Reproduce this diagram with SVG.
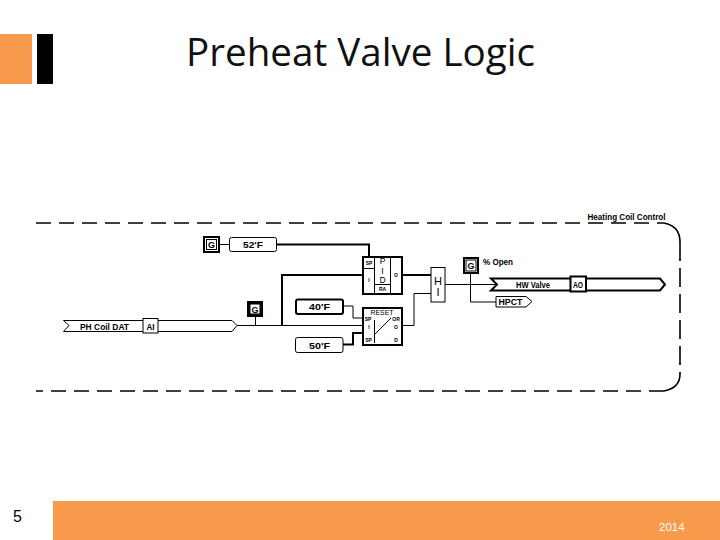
<svg xmlns="http://www.w3.org/2000/svg" width="720" height="540" viewBox="0 0 720 540">
<style>
.ln{fill:none;stroke:#000;stroke-width:1}
.th{fill:none;stroke:#000;stroke-width:2}
.bx{fill:#fff;stroke:#000;stroke-width:1}
.bt{fill:#fff;stroke:#000;stroke-width:2}
.fr{fill:none;stroke:#000;stroke-width:1.6}
.t{font-family:"Liberation Sans",Arial,sans-serif;fill:#000;text-anchor:middle}
.s{font-size:9px;font-weight:bold}
.xs{font-size:5px;font-weight:bold}
.o{fill:#F79A4B}
</style>
<rect width="720" height="540" fill="#fff"/>
<g id="decor">
<rect class="o" x="0" y="34" width="32" height="50"/>
<rect x="37" y="34" width="16" height="50" fill="#000"/>
<rect class="o" x="53" y="501" width="667" height="39"/>
</g>
<text x="186" y="66" font-family="'Open Sans','Noto Sans',sans-serif" font-size="38" textLength="349" lengthAdjust="spacingAndGlyphs" fill="#111">Preheat Valve Logic</text>
<text x="13" y="522" font-family="'Liberation Sans',Arial,sans-serif" font-size="16" fill="#000">5</text>
<text x="659" y="531" font-family="'Liberation Sans',Arial,sans-serif" font-size="11.5" fill="#fff">2014</text>

<g id="connectors">
<path class="fr" stroke-dasharray="15 8" d="M36 223H664"/>
<path class="fr" d="M664 223Q680 226 680 242"/>
<path class="fr" stroke-dasharray="19 7" d="M680 242V374"/>
<path class="fr" d="M680 374Q680 388 664 391"/>
<path class="fr" stroke-dasharray="15 8" d="M664 391H36"/>
<path class="ln" d="M219 244.500H229"/>
<path class="th" d="M277 244.500H369V257" stroke-width="1.500"/>
<path class="ln" d="M237 325.500H363"/>
<path class="ln" d="M255.500 317V325"/>
<path class="th" d="M282 325V275H363"/>
<path class="ln" d="M343 306H353V318H363"/>
<path class="th" d="M343 344.500H353V333H363" stroke-width="1.500"/>
<path class="th" d="M402 275H431"/>
<path class="ln" d="M402 325.500H414V293.500H431"/>
<path class="ln" d="M445 284.500H497"/>
<path class="ln" d="M470.500 273V302H496"/>
</g>

<g id="heating-label"><text class="t s" x="626.500" y="220" textLength="78" lengthAdjust="spacingAndGlyphs">Heating Coil Control</text></g>

<g id="g1"><rect class="bt" x="204" y="237" width="15" height="15"/><rect class="bx" x="206.500" y="239.500" width="10" height="10"/><text class="t s" x="211.500" y="248">G</text></g>
<g id="sp52"><rect class="bx" x="229.500" y="237.500" width="47" height="14" rx="2"/><text class="t s" x="253" y="248" textLength="20" lengthAdjust="spacingAndGlyphs">52'F</text></g>
<g id="g2"><rect x="247" y="301" width="16" height="16" fill="#000"/><rect x="250.500" y="304.500" width="9" height="9" fill="#fff"/><text class="t s" x="255" y="313">G</text></g>
<g id="sp40"><rect class="bt" x="296" y="299.500" width="47" height="14.500" rx="2"/><text class="t s" x="319.500" y="310" textLength="21" lengthAdjust="spacingAndGlyphs">40'F</text></g>
<g id="sp50"><rect class="bx" x="295.500" y="337.500" width="47.500" height="15" rx="2"/><text class="t s" x="319.500" y="349" textLength="21" lengthAdjust="spacingAndGlyphs">50'F</text></g>

<g id="pid">
<rect class="bt" x="363" y="257" width="39" height="37"/>
<path class="ln" d="M374.500 257V294M390.500 257V294M363 268.500H374.500M374.500 284.500H390.500"/>
<text class="t xs" x="369" y="265">SP</text>
<text class="t xs" x="369" y="282">I</text>
<text class="t" font-size="8.500" x="382.500" y="264">P</text>
<text class="t" font-size="8.500" x="382.500" y="274">I</text>
<text class="t" font-size="8.500" x="382.500" y="283">D</text>
<text class="t xs" x="382.500" y="291">RA</text>
<text class="t xs" x="396" y="277">O</text>
</g>

<g id="reset">
<rect class="bt" x="363" y="308" width="39" height="37"/>
<path class="ln" d="M374.500 320V343M375 334L391 318"/>
<text class="t" font-size="7" x="382" y="314.500" textLength="23" lengthAdjust="spacingAndGlyphs">RESET</text>
<text class="t xs" x="368" y="321">SP</text>
<text class="t xs" x="369" y="329">I</text>
<text class="t xs" x="368.500" y="342">SP</text>
<text class="t xs" x="396" y="321">OR</text>
<text class="t xs" x="396" y="329">O</text>
<text class="t xs" x="396" y="342">D</text>
</g>

<g id="hi"><rect class="bx" x="431" y="267.500" width="14" height="34.500"/><text class="t" font-size="11" x="438" y="285">H</text><text class="t" font-size="11" x="438" y="296">I</text></g>

<g id="g3"><rect class="bt" x="464" y="258" width="14" height="15"/><rect class="bx" x="466" y="260" width="10" height="11"/><text class="t s" x="471" y="269">G</text></g>
<g id="open-label"><text class="t s" x="498" y="265" textLength="30" lengthAdjust="spacingAndGlyphs">% Open</text></g>

<g id="hw-valve">
<path class="th" d="M491 278.500H660L665 284.500L660 290.500H491L497 284.500Z"/>
<text class="t s" x="533" y="288" textLength="34" lengthAdjust="spacingAndGlyphs">HW Valve</text>
<rect class="bt" x="570.500" y="276.500" width="15.500" height="15"/>
<text class="t s" x="578" y="288" textLength="10" lengthAdjust="spacingAndGlyphs">AO</text>
</g>
<g id="hpct"><path class="bx" d="M496 296.500H526L532 301.500L526 307H496Z"/><text class="t s" x="510.500" y="305" textLength="24" lengthAdjust="spacingAndGlyphs">HPCT</text></g>

<g id="ph-coil">
<path class="bx" d="M63.500 320.500H232L237 325.500L232 331.500H63.500L69 325.500Z"/>
<text class="t s" x="104.500" y="330" textLength="49" lengthAdjust="spacingAndGlyphs">PH Coil DAT</text>
<rect class="bx" x="143" y="318.500" width="15" height="14.500"/>
<text class="t s" x="150.500" y="330" textLength="8" lengthAdjust="spacingAndGlyphs">AI</text>
</g>
</svg>
